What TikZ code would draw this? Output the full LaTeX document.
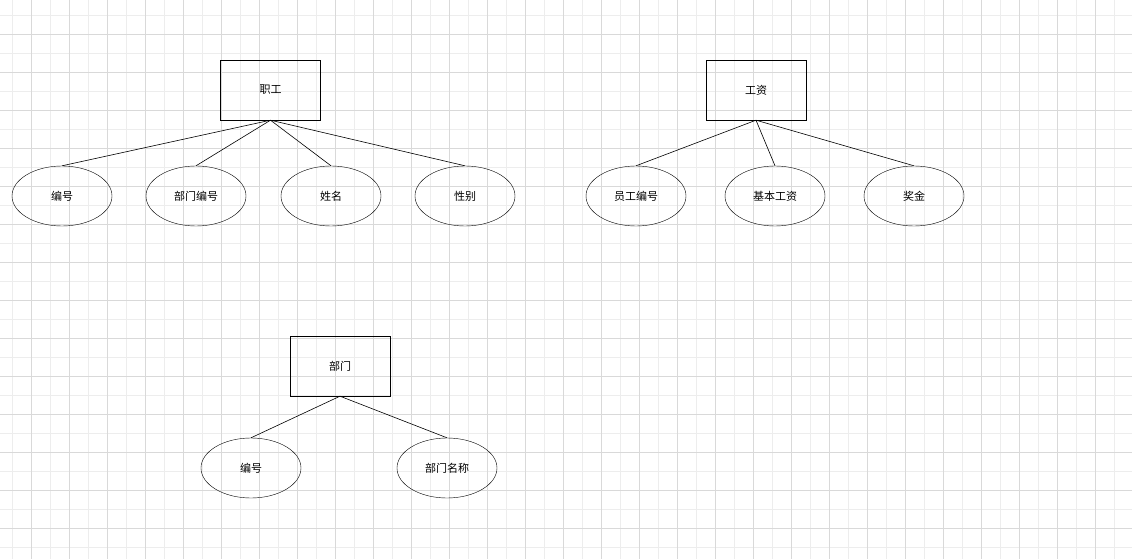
\documentclass[tikz,border=0pt]{standalone}
\usepackage{fontspec}
\setmainfont{Noto Sans CJK SC}
\usetikzlibrary{shapes.geometric}
\begin{document}
\begin{tikzpicture}[x=1pt,y=-1pt,
  ent/.style={draw,minimum width=100pt,minimum height=60pt,font=\fontsize{11}{13}\selectfont},
  att/.style={draw,ellipse,minimum width=100pt,minimum height=60pt,inner sep=0pt,font=\fontsize{11}{13}\selectfont},
  lk/.style={draw,line width=0.6pt}]
\useasboundingbox (0,0) rectangle (1132,559);
\fill[white] (0,0) rectangle (1132,559);
\foreach \i in {0,...,59} {\draw[line width=0.6pt,black!7] (12+19*\i,0) -- (12+19*\i,559);}
\foreach \i in {0,...,29} {\draw[line width=0.6pt,black!7] (0,15+19*\i) -- (1132,15+19*\i);}
\foreach \i in {0,...,29} {\draw[line width=0.6pt,black!15] (31+38*\i,0) -- (31+38*\i,559);}
\foreach \i in {0,...,14} {\draw[line width=0.6pt,black!15] (0,34+38*\i) -- (1132,34+38*\i);}
\node[ent] (zg) at (270.5,90) {职工};
\node[att] (a1) at (62,196) {编号};
\node[att] (a2) at (196,196) {部门编号};
\node[att] (a3) at (331,196) {姓名};
\node[att] (a4) at (465,196) {性别};
\foreach \a in {a1,a2,a3,a4} \draw[lk] (zg.south) -- (\a.north);
\node[ent] (gz) at (756,90) {工资};
\node[att] (b1) at (636,196) {员工编号};
\node[att] (b2) at (775,196) {基本工资};
\node[att] (b3) at (914,196) {奖金};
\foreach \a in {b1,b2,b3} \draw[lk] (gz.south) -- (\a.north);
\node[ent] (bm) at (340,366) {部门};
\node[att] (c1) at (251,468) {编号};
\node[att] (c2) at (447,468) {部门名称};
\foreach \a in {c1,c2} \draw[lk] (bm.south) -- (\a.north);
\end{tikzpicture}
\end{document}
